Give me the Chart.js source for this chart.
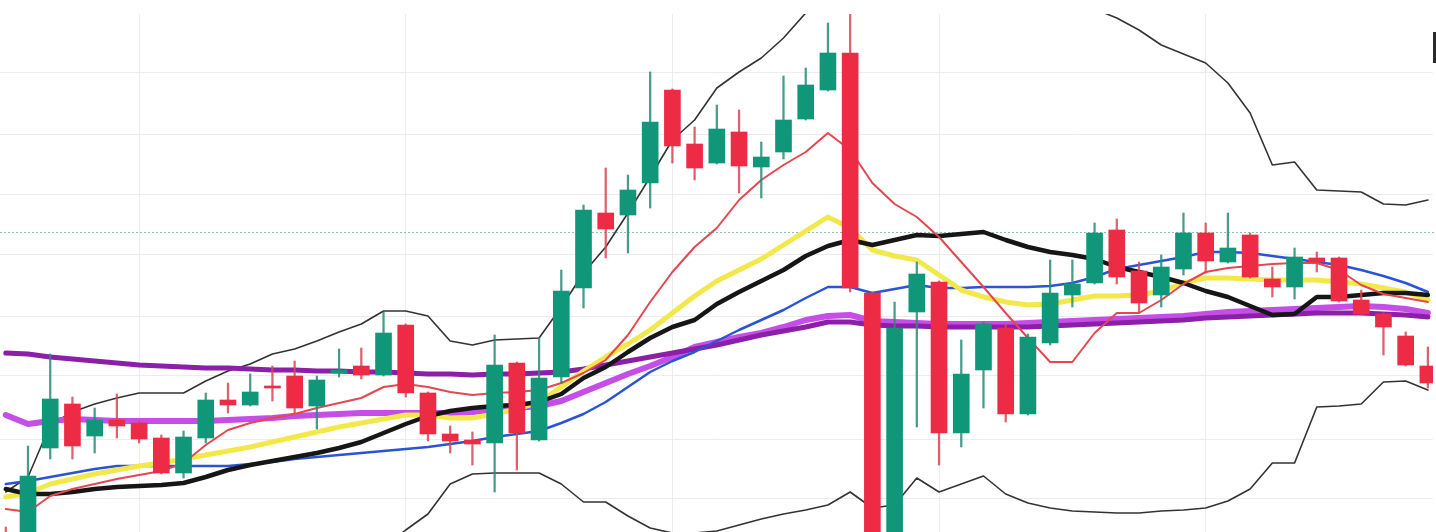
<!DOCTYPE html>
<html><head><meta charset="utf-8">
<script src="https://cdn.jsdelivr.net/npm/chart.js@4/dist/chart.umd.min.js"></script>
<style>html,body{margin:0;padding:0;background:#fff;overflow:hidden}#wrap{position:relative;width:1436px;height:532px}#thumb{position:absolute;right:0;top:32px;width:3px;height:31px;background:#2a2a2a}</style>
</head><body><div id="wrap"><canvas id="c" width="1436" height="532"></canvas><div id="thumb"></div></div>
<script>
// session index (x) for every candle
const sessions = [-1,0,1,2,3,4,5,6,7,8,9,10,11,12,13,14,15,16,17,18,19,20,21,22,23,24,25,26,27,28,29,30,31,32,33,34,35,36,37,38,39,40,41,42,43,44,45,46,47,48,49,50,51,52,53,54,55,56,57,58,59,60,61,62,63];
// OHLC
const opens  = [-8,-13,84,128,96,112,109,94,59,94,132,127,146,156,126,159,166,157,207,139,98,92,89,169,92,155,244,319,317,349,442,388,369,400,365,380,413,442,479,239,-28,220,250,99,162,204,118,189,237,249,302,261,237,263,299,270,297,253,245,274,274,232,218,196,166];
const closes = [-28,56,133,86,112,106,93,59,95,132,127,140,144,124,152,162,157,199,139,98,91,88,167,99,154,241,322,303,342,410,386,364,403,366,375,412,447,479,244,-28,204,258,99,158,208,118,195,239,248,299,255,229,265,299,271,284,255,245,275,270,231,218,205,167,149];
const highs  = [5,86,178,135,124,138,111,97,101,139,149,158,166,171,156,183,184,220,208,140,106,100,197,170,194,262,327,364,357,460,443,405,427,422,390,456,464,509,527,240,230,270,251,192,210,208,198,272,272,309,313,270,277,319,309,319,299,265,284,280,275,242,219,200,185];
const lows   = [-38,-18,73,73,79,94,89,58,54,89,119,126,131,119,103,155,153,156,135,91,79,67,40,62,91,149,224,274,279,324,369,352,368,339,334,373,412,441,240,-38,-33,105,67,85,124,110,117,187,225,248,248,219,225,257,259,269,254,235,233,260,230,217,177,166,144];
// indicator lines
const bbUpper = [40,55,107,120,128,134,139,139,139,151,161,168,178,183,191,200,208,221,221,216,191,187,192,193,194,225,259,285,319,355,392,412,444,460,474,494,519,545,544,550,557,540,552,548,544,546,541,536,533,523,514,502,487,478,469,449,419,367,370,342,341,340,328,327,332];
const bbLower = [-20,-25,-31,-40,-42,-44,-47,-45,-41,-41,-37,-34,-36,-33,-33,-32,-30,-16,2,18,48,58,59,59,59,48,30,30,16,4,-1,-1,1,7,13,18,22,27,40,24,27,54,40,48,56,38,29,24,21,20,19,19,21,22,24,31,43,69,69,125,126,128,150,151,142];
const maFast = [23,20,36,43,48,53,57,61,69,87,102,109,114,118,124,129,134,145,148,145,140,137,139,140,142,149,159,172,197,230,260,285,304,332,352,367,380,399,382,349,328,315,295,270,245,219,194,170,170,199,219,219,232,248,260,264,266,268,269,269,262,247,238,234,230];
const maYellow = [35,39,48,53,58,62,66,69,73,77,81,85,90,95,100,105,109,113,117,117,114,114,118,123,130,145,161,175,188,202,219,236,251,262,273,287,301,315,304,282,276,272,257,242,235,230,227,228,232,236,236,237,241,249,254,254,253,252,252,252,250,248,244,240,232];
const maBlack = [43,38,38,40,43,45,46,47,49,55,62,67,71,75,79,84,90,99,108,116,121,124,126,127,130,138,154,165,180,194,205,212,228,240,251,262,276,286,292,287,292,297,296,298,300,292,285,280,277,273,265,260,255,249,241,235,226,217,218,235,235,237,239,239,237];
const maBlue = [48,51,55,59,63,66,66,66,66,66,66,68,70,73,75,77,79,81,83,85,88,91,95,98,101,109,118,130,145,160,171,180,191,202,212,222,234,245,245,239,243,247,244,244,245,245,245,246,249,255,263,267,271,275,280,280,279,276,273,270,267,262,256,249,240];
const maPurple = [179,178,175,173,171,169,167,166,165,164,164,163,162,162,161,161,160,160,159,158,158,157,158,158,159,160,163,167,171,175,179,183,187,192,197,201,205,210,210,207,206,206,205,205,205,205,205,206,207,208,209,210,211,212,214,215,216,217,218,219,219,219,218,217,215];
const maMagenta = [117,108,111,113,112,111,111,111,111,111,112,113,114,116,117,118,119,119,119,119,119,120,122,124,126,131,140,149,158,166,175,185,190,195,199,205,212,216,217,211,210,209,208,208,208,208,209,210,211,212,213,214,215,216,218,220,221,222,223,224,225,226,225,223,219];
// grid levels, time marks, last price
const gridLevels = [34,93,156,216,277,337,398,460];
const timeMarks = [5,17,29,41,53];
const lastPrice = 300;

const UP = '#10977a', DOWN = '#ee2b44';
const WICK_UP = 'rgba(40,140,118,0.85)', WICK_DOWN = 'rgba(215,70,85,0.85)';
const isUp = i => closes[i] >= opens[i];

const pts = arr => sessions.map((s, k) => ({x: s, y: arr[k]}));
const lineDs = (arr, color, width, order) => ({
  type: 'line', data: pts(arr), borderColor: color, borderWidth: width,
  pointRadius: 0, tension: 0, fill: false, order, clip: 0,
  borderCapStyle: 'round', borderJoinStyle: 'round'
});

const lastPricePlugin = {
  id: 'lastPrice',
  beforeDatasetsDraw(chart) {
    const {ctx, scales: {y}} = chart;
    const py = Math.round(y.getPixelForValue(lastPrice)) + 0.5;
    ctx.save();
    ctx.strokeStyle = '#8bbdb4';
    ctx.lineWidth = 1;
    ctx.setLineDash([2, 2]);
    ctx.beginPath();
    ctx.moveTo(0, py);
    ctx.lineTo(chart.width, py);
    ctx.stroke();
    ctx.restore();
  }
};

new Chart(document.getElementById('c'), {
  type: 'bar',
  data: {
    datasets: [
      { type: 'bar', data: sessions.map((s, k) => ({x: s, y: [opens[k], closes[k]]})),
        backgroundColor: c => isUp(c.dataIndex) ? UP : DOWN,
        barThickness: 16, grouped: false, order: 0, clip: 0, borderWidth: 0 },
      { type: 'bar', data: sessions.map((s, k) => ({x: s, y: [lows[k], highs[k]]})),
        backgroundColor: c => isUp(c.dataIndex) ? WICK_UP : WICK_DOWN,
        barThickness: 1.6, grouped: false, order: 1, clip: 0, borderWidth: 0 },
      lineDs(maFast, '#e4474f', 2, 2),
      lineDs(maBlack, '#161616', 4.5, 3),
      lineDs(maYellow, '#f3e84a', 5, 4),
      lineDs(maBlue, '#2b54d4', 2.5, 5),
      lineDs(maPurple, '#8b1fa8', 5, 6),
      lineDs(maMagenta, '#c54ee6', 6, 7),
      lineDs(bbUpper, '#333333', 1.6, 8),
      lineDs(bbLower, '#333333', 1.6, 8)
    ]
  },
  options: {
    responsive: false,
    animation: false,
    devicePixelRatio: 1,
    layout: { padding: { top: 14, right: 3, bottom: 0, left: 0 } },
    plugins: { legend: { display: false }, tooltip: { enabled: false } },
    scales: {
      x: {
        type: 'linear', min: -1.26, max: 63.23, offset: false,
        afterBuildTicks: s => { s.ticks = timeMarks.map(v => ({value: v})); },
        afterFit: s => { s.height = 0; },
        ticks: { display: false },
        grid: { color: '#ececec', drawTicks: false, lineWidth: 1, offset: false },
        border: { display: false }
      },
      y: {
        type: 'linear', min: 0, max: 518,
        afterBuildTicks: s => { s.ticks = gridLevels.map(v => ({value: v})); },
        afterFit: s => { s.width = 0; },
        ticks: { display: false },
        grid: { color: '#ececec', drawTicks: false, lineWidth: 1 },
        border: { display: false }
      }
    }
  },
  plugins: [lastPricePlugin]
});
</script></body></html>
